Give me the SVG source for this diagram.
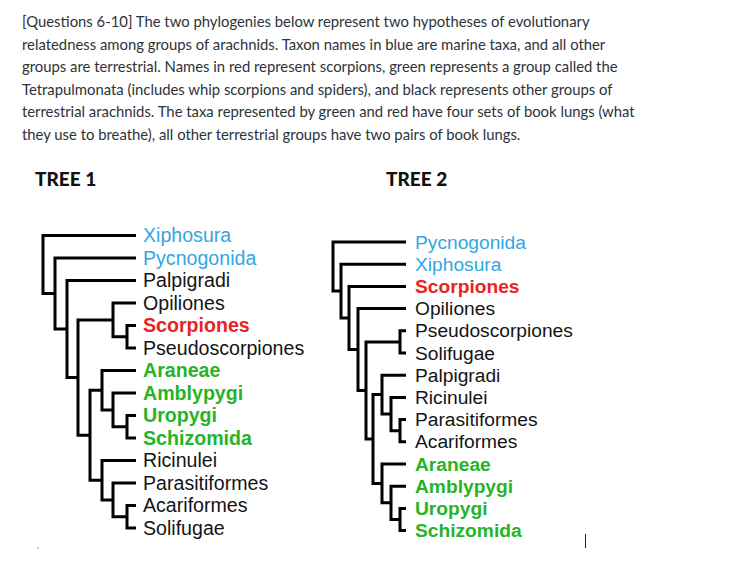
<svg xmlns="http://www.w3.org/2000/svg" width="729" height="574" viewBox="0 0 729 574">
<style>
.para{font-family:Lato,"Open Sans","Liberation Sans",sans-serif;font-size:14.85px;fill:#2d3338}
.head{font-family:Lato,"Liberation Sans",sans-serif;font-size:19px;font-weight:900;fill:#111}
.t1{font-family:"Liberation Sans",Arial,sans-serif;font-size:19.6px}
.t2{font-family:"Liberation Sans",Arial,sans-serif;font-size:19.2px}
.blue{fill:#33a6e0}
.red{fill:#e82323;font-weight:bold}
.green{fill:#26b426;font-weight:bold}
.blk{fill:#141414}
.br{fill:none;stroke:#000;stroke-width:3;stroke-linejoin:miter;stroke-linecap:butt}
</style>
<rect width="729" height="574" fill="#fff"/>
<g id="paragraph">
<text class="para" x="22" y="27">[Questions 6-10] The two phylogenies below represent two hypotheses of evolutionary</text>
<text class="para" x="22" y="49.5">relatedness among groups of arachnids. Taxon names in blue are marine taxa, and all other</text>
<text class="para" x="22" y="72">groups are terrestrial. Names in red represent scorpions, green represents a group called the</text>
<text class="para" x="22" y="94.5">Tetrapulmonata (includes whip scorpions and spiders), and black represents other groups of</text>
<text class="para" x="22" y="117">terrestrial arachnids. The taxa represented by green and red have four sets of book lungs (what</text>
<text class="para" x="22" y="139.5">they use to breathe), all other terrestrial groups have two pairs of book lungs.</text>
</g>
<g id="tree1-title"><text class="head" x="35" y="186">TREE 1</text></g>
<g id="tree2-title"><text class="head" x="386" y="186">TREE 2</text></g>

<g id="connectors">
<g id="tree1-branches">
<path class="br" d="M136 235.5 H43 V293.5 H55"/>
<path class="br" d="M136 258 H55 V329 H67"/>
<path class="br" d="M136 280.5 H67 V377.5 H78"/>
<path class="br" d="M113 319.9 H78 V435.2 H90"/>
<path class="br" d="M102 390.2 H90 V480.2 H102"/>
<path class="br" d="M136 370.5 H102 V409.9 H113"/>
<path class="br" d="M136 393 H113 V426.75 H127"/>
<path class="br" d="M136 415.5 H127 V438 H136"/>
<path class="br" d="M136 460.5 H102 V499.9 H113"/>
<path class="br" d="M136 483 H113 V516.75 H127"/>
<path class="br" d="M136 505.5 H127 V528 H136"/>
<path class="br" d="M136 303 H113 V336.75 H127"/>
<path class="br" d="M136 325.5 H127 V348 H136"/>
</g>
<g id="tree2-branches">
<path class="br" d="M406 242 H333 V291.1 H341"/>
<path class="br" d="M406 264.2 H341 V318 H349"/>
<path class="br" d="M406 286.4 H349 V349.5 H358"/>
<path class="br" d="M406 308.6 H358 V390.45 H366"/>
<path class="br" d="M400 341.9 H366 V439 H373"/>
<path class="br" d="M406 330.8 H400 V353 H406"/>
<path class="br" d="M382 394.6 H373 V483.4 H382"/>
<path class="br" d="M406 375.2 H382 V414.05 H391"/>
<path class="br" d="M406 397.4 H391 V430.7 H400"/>
<path class="br" d="M406 419.6 H400 V441.8 H406"/>
<path class="br" d="M406 464 H382 V502.85 H391"/>
<path class="br" d="M406 486.2 H391 V519.5 H400"/>
<path class="br" d="M406 508.4 H400 V530.6 H406"/>
</g>
</g>

<g id="tree1-taxa" class="t1">
<text id="t1-xiphosura" class="blue" x="143" y="242">Xiphosura</text>
<text id="t1-pycnogonida" class="blue" x="143" y="264.5">Pycnogonida</text>
<text id="t1-palpigradi" class="blk" x="143" y="287">Palpigradi</text>
<text id="t1-opiliones" class="blk" x="143" y="309.5">Opiliones</text>
<text id="t1-scorpiones" class="red" x="143" y="332">Scorpiones</text>
<text id="t1-pseudoscorpiones" class="blk" x="143" y="354.5">Pseudoscorpiones</text>
<text id="t1-araneae" class="green" x="143" y="377">Araneae</text>
<text id="t1-amblypygi" class="green" x="143" y="399.5">Amblypygi</text>
<text id="t1-uropygi" class="green" x="143" y="422">Uropygi</text>
<text id="t1-schizomida" class="green" x="143" y="444.5">Schizomida</text>
<text id="t1-ricinulei" class="blk" x="143" y="467">Ricinulei</text>
<text id="t1-parasitiformes" class="blk" x="143" y="489.5">Parasitiformes</text>
<text id="t1-acariformes" class="blk" x="143" y="512">Acariformes</text>
<text id="t1-solifugae" class="blk" x="143" y="534.5">Solifugae</text>
</g>

<g id="tree2-taxa" class="t2">
<text id="t2-pycnogonida" class="blue" x="415" y="248.5">Pycnogonida</text>
<text id="t2-xiphosura" class="blue" x="415" y="270.7">Xiphosura</text>
<text id="t2-scorpiones" class="red" x="415" y="292.9">Scorpiones</text>
<text id="t2-opiliones" class="blk" x="415" y="315.1">Opiliones</text>
<text id="t2-pseudoscorpiones" class="blk" x="415" y="337.3">Pseudoscorpiones</text>
<text id="t2-solifugae" class="blk" x="415" y="359.5">Solifugae</text>
<text id="t2-palpigradi" class="blk" x="415" y="381.7">Palpigradi</text>
<text id="t2-ricinulei" class="blk" x="415" y="403.9">Ricinulei</text>
<text id="t2-parasitiformes" class="blk" x="415" y="426.1">Parasitiformes</text>
<text id="t2-acariformes" class="blk" x="415" y="448.3">Acariformes</text>
<text id="t2-araneae" class="green" x="415" y="470.5">Araneae</text>
<text id="t2-amblypygi" class="green" x="415" y="492.7">Amblypygi</text>
<text id="t2-uropygi" class="green" x="415" y="514.9">Uropygi</text>
<text id="t2-schizomida" class="green" x="415" y="537.1">Schizomida</text>
</g>

<line x1="585.5" y1="534" x2="585.5" y2="548" stroke="#222" stroke-width="1"/>
<circle cx="38" cy="548" r="0.8" fill="#999"/>
</svg>
